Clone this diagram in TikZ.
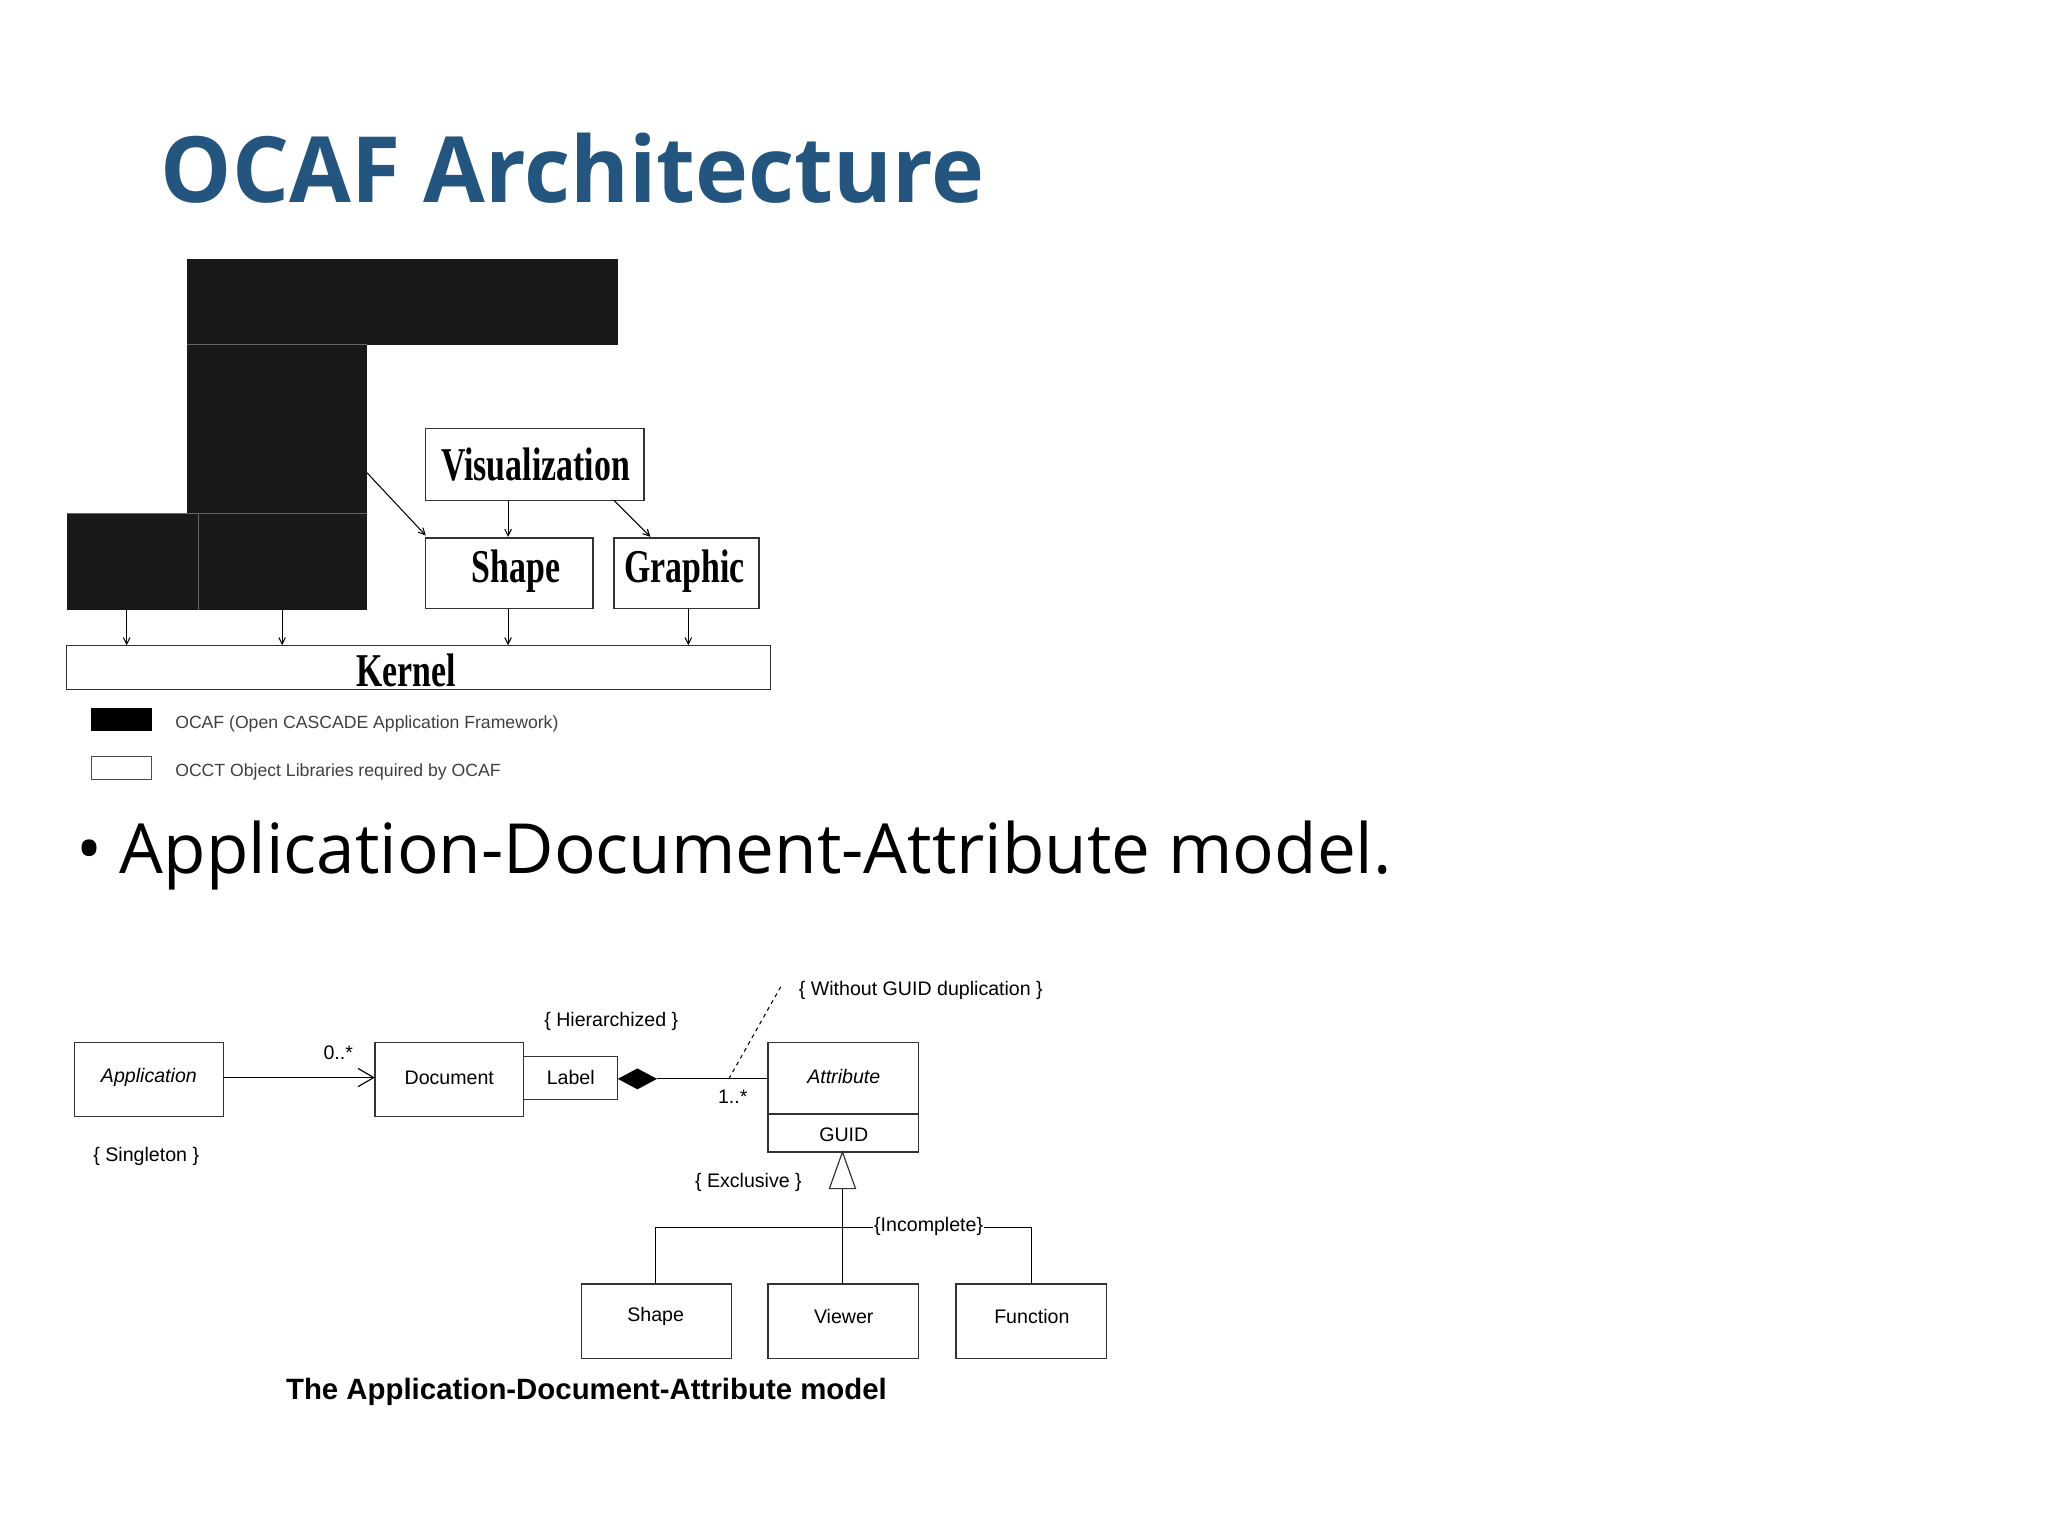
\documentclass[tikz,border=0pt]{standalone}
\usepackage{fontspec}
\setmainfont{Liberation Serif}
\newfontfamily\osans{Open Sans}
\newfontfamily\lsans{Liberation Sans}
\usetikzlibrary{arrows.meta,shapes.geometric}
\definecolor{titleblue}{HTML}{24557F}
\tikzset{
  box/.style={draw=black!80,line width=1pt,fill=white},
  lbl/.style={font=\bfseries\fontsize{36}{36}\selectfont,inner sep=0pt},
  arr/.style={-{Straight Barb[length=5pt,width=5pt]},line width=0.8pt},
  uml/.style={draw=black!80,line width=1pt,fill=white},
  ut/.style={font=\lsans\fontsize{15}{15}\selectfont,inner sep=1pt},
}
\newcommand\cond[1]{\scalebox{0.72}[1]{#1}}
\begin{document}
\begin{tikzpicture}[x=1pt,y=-1pt]
\useasboundingbox (0,0) rectangle (1568,1176);
\fill[white] (0,0) rectangle (1568,1176);
\node[anchor=base west,text=titleblue,font=\osans\bfseries\fontsize{70}{70}\selectfont,inner sep=0pt] (title) at (123,155) {\scalebox{0.98}[1]{OCAF Architecture}};
% black OCAF block
\fill[black!90] (143,198) rectangle (473,264);
\fill[black!90] (143,264) rectangle (281,393);
\fill[black!90] (51,393) rectangle (281,467);
\draw[black!60,line width=0.6pt] (152,393) -- (152,467) (143,264) -- (281,264) (51,393) -- (281,393);
\coordinate (blk) at (281,362);
\coordinate (b1) at (97,467);
\coordinate (b2) at (216,467);
% boxes
\draw[box] (326,328) rectangle (493,383);
\node[lbl] (vis) at (410,356) {\cond{Visualization}};
\draw[box] (326,412) rectangle (454,466);
\node[lbl] (shp) at (395,437) {\cond{Shape}};
\draw[box] (470,412) rectangle (581,466);
\node[lbl] (gra) at (524,437) {\cond{Graphic}};
\draw[box] (51,494) rectangle (590,528);
\node[lbl] (ker) at (311,513) {\cond{Kernel}};
\draw[arr] (blk) -- (326,410);
\draw[arr] (389,383) -- (389,411);
\draw[arr] (470,383) -- (498,411);
\draw[arr] (b1) -- (97,494);
\draw[arr] (b2) -- (216,494);
\draw[arr] (389,466) -- (389,494);
\draw[arr] (527,466) -- (527,494);
% legend
\fill[black] (70,542) rectangle (116,560);
\draw[black!70,line width=0.8pt] (70,579) rectangle (116,597);
\node[anchor=west,font=\lsans\fontsize{13.5}{13.5}\selectfont,text=black!75,inner sep=0pt] (l1) at (134,554) {OCAF (Open CASCADE Application Framework)};
\node[anchor=west,font=\lsans\fontsize{13.5}{13.5}\selectfont,text=black!75,inner sep=0pt] (l2) at (134,591) {OCCT Object Libraries required by OCAF};
% bullet
\node[anchor=base west,font=\osans\fontsize{53}{53}\selectfont,inner sep=0pt] (bul) at (58,669) {\textbullet\ Application-Document-Attribute model.};
% UML
\draw[uml] (57,798) rectangle (171,855);
\node[ut,font=\lsans\itshape\fontsize{15}{15}\selectfont] (app) at (114,825) {Application};
\draw[uml] (287,798) rectangle (401,855);
\node[ut] (doc) at (344,825) {Document};
\draw[uml] (401,809) rectangle (473,842);
\node[ut] (lab) at (437,825) {Label};
\draw[uml] (588,798) rectangle (703,882);
\draw[uml] (588,853) -- (703,853);
\node[ut,font=\lsans\itshape\fontsize{15}{15}\selectfont] (att) at (646,824) {Attribute};
\node[ut] (guid) at (646,869) {GUID};
\draw[uml] (445,983) rectangle (560,1040);
\node[ut] (sh) at (502,1008) {Shape};
\draw[uml] (588,983) rectangle (703,1040);
\node[ut] (vw) at (646,1008) {Viewer};
\draw[uml] (732,983) rectangle (847,1040);
\node[ut] (fn) at (790,1008) {Function};
\draw[line width=0.9pt,-{Straight Barb[length=12pt,width=14pt]}] (171,825) -- (287,825);
\node[ut] (m1) at (259,806) {0..*};
\fill[black] (473,826) -- (488,818) -- (503,826) -- (488,834) -- cycle;
\draw[line width=0.9pt] (503,826) -- (588,826);
\node[ut] (m2) at (561,840) {1..*};
\draw[dashed,line width=0.8pt] (558,826) -- (598,755);
\node[ut] (c1) at (705,758) {\{ Without GUID duplication \}};
\node[ut] (c2) at (468,782) {\{ Hierarchized \}};
\node[ut] (c3) at (112,885) {\{ Singleton \}};
\node[ut] (c4) at (573,905) {\{ Exclusive \}};
\draw[uml,line width=0.9pt] (645,882) -- (635,910) -- (655,910) -- cycle;
\draw[line width=0.9pt] (645,910) -- (645,983);
\draw[line width=0.9pt] (502,983) -- (502,940) -- (790,940) -- (790,983);
\node[ut,fill=white] (c5) at (711,939) {\{Incomplete\}};
\node[font=\lsans\bfseries\fontsize{22.5}{22.5}\selectfont,inner sep=0pt] (cap) at (449,1066) {The Application-Document-Attribute model};
\end{tikzpicture}
\end{document}
